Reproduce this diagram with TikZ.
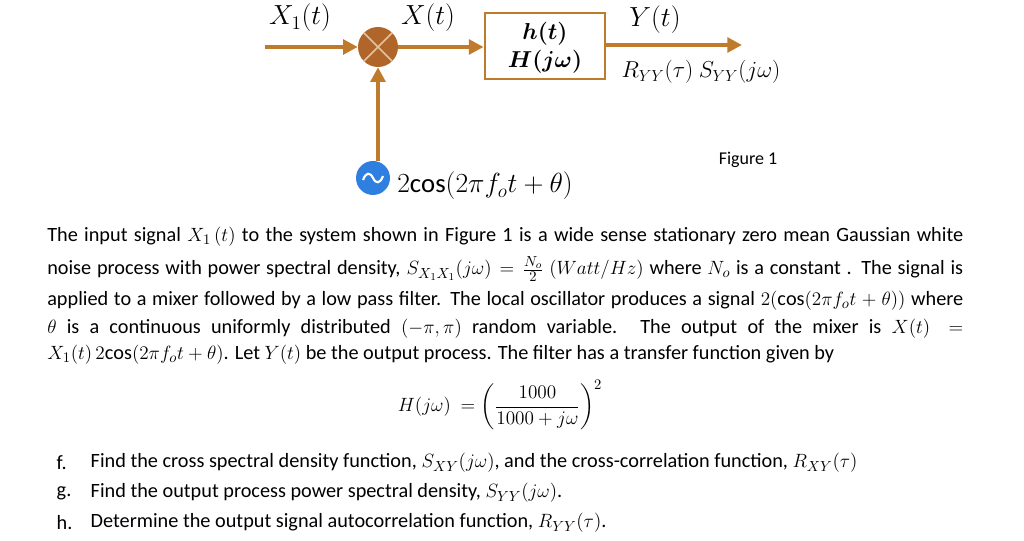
\documentclass[tikz,border=0pt]{standalone}
\usepackage{amsmath}
\usepackage{fontspec}
\setmainfont{Carlito}
\usetikzlibrary{arrows.meta}
\definecolor{brn}{HTML}{C07A2C}
\definecolor{mix}{HTML}{B0662A}
\definecolor{osc}{HTML}{2F7FE0}
\newlength{\px}\setlength{\px}{0.75pt}
\newcommand{\tline}[2]{\node[anchor=west,inner sep=0] at (47,#1) {\makebox[916\px][s]{#2}};}
\begin{document}
\begin{tikzpicture}[x=0.75pt,y=-0.75pt,
  sig/.style={brn,line width=2.8pt,-{Triangle[length=11pt,width=11pt]}},
  lbl/.style={font=\fontsize{20}{24}\selectfont},
  txt/.style={font=\fontsize{15.2}{18}\selectfont}]
\useasboundingbox (0,0) rectangle (1024,541);
% diagram
\node[circle,fill=mix,minimum size=40\px,inner sep=0] (m) at (378,47) {};
\draw[brn!45!white,line width=1.3pt] (m.45)--(m.225) (m.135)--(m.315);
\node[draw=brn,line width=2.2pt,minimum width=120\px,minimum height=66\px,inner sep=0,align=center] (h) at (545,46) {};
\node[font=\fontsize{16.5}{20}\selectfont] at (545,34) {$\boldsymbol{h(t)}$};
\node[font=\fontsize{16.5}{20}\selectfont] at (545,62) {$\boldsymbol{H(j\omega)}$};
\node[circle,fill=osc,minimum size=34\px,inner sep=0] (o) at (373,178) {};
\draw[white,line width=1.6pt] (363,180) .. controls (366,172) and (370,172) .. (373,178) .. controls (376,184) and (380,184) .. (383,176);
\coordinate (in) at (265,47);
\coordinate (out) at (742,45);
\draw[sig] (in) -- (m.west);
\draw[sig] (m.east) -- (h.west|-m.east);
\draw[sig] (h.east|-out) -- (out);
\draw[sig] (o.north-|m.south) -- (m.south);
\node[lbl] at (300,18) {$X_1(t)$};
\node[lbl] at (428,18) {$X(t)$};
\node[lbl] at (655,20) {$Y(t)$};
\node[font=\fontsize{18}{22}\selectfont] at (701,72) {$R_{YY}(\tau)\ S_{YY}(j\omega)$};
\node[lbl] at (485,186) {$2\!\cos(2\pi f_o t+\theta)$};
\node[font=\fontsize{13.5}{16}\selectfont] at (748,160) {Figure 1};
% text
\begin{scope}[txt]
\tline{237}{The input signal $X_1\,(t)$ to the system shown in Figure 1 is a wide sense stationary zero mean Gaussian white}
\tline{269}{noise process with power spectral density, $S_{X_1X_1}(j\omega)=\frac{N_o}{2}$ $(Watt/Hz)$ where $N_o$ is a constant . The signal is}
\tline{301}{applied to a mixer followed by a low pass filter. The local oscillator produces a signal $2(\cos(2\pi f_ot+\theta))$ where}
\tline{329}{$\theta$ is a continuous uniformly distributed $(-\pi,\pi)$ random variable. The output of the mixer is $X(t)=$}
\tline{355}{$X_1(t)\,2\!\cos(2\pi f_ot+\theta)$. Let $Y(t)$ be the output process. The filter has a transfer function given by\hfill}
\node[anchor=center] at (500,405) {$H(j\omega)\ =\left(\dfrac{1000}{1000+j\omega}\right)^{2}$};
\node[anchor=west] at (52,463) {f.};
\node[anchor=west] at (52,493) {g.};
\node[anchor=west] at (52,523) {h.};
\node[anchor=west] at (86,463) {Find the cross spectral density function, $S_{XY}(j\omega)$, and the cross-correlation function, $R_{XY}(\tau)$};
\node[anchor=west] at (86,493) {Find the output process power spectral density, $S_{YY}(j\omega)$.};
\node[anchor=west] at (86,523) {Determine the output signal autocorrelation function, $R_{YY}(\tau)$.};
\end{scope}
\end{tikzpicture}
\end{document}
